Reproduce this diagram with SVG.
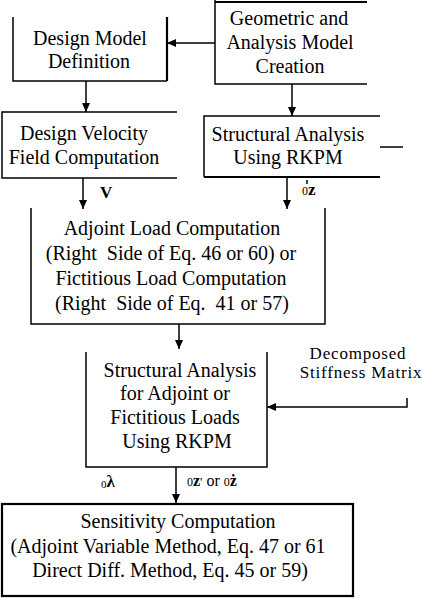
<svg xmlns="http://www.w3.org/2000/svg" width="422" height="598" viewBox="0 0 422 598">
<defs>
<style>
.box{fill:none;stroke:#000;stroke-width:1.5}
.thick{fill:none;stroke:#000;stroke-width:2.2}
.con{fill:none;stroke:#000;stroke-width:1.5}
text{font-family:"Liberation Serif","Times New Roman",serif;fill:#000}
.t{font-size:20px;text-anchor:middle}
.s{font-size:17px;text-anchor:middle;letter-spacing:0.8px}
.b{font-weight:bold}
</style>
<marker id="ah" markerWidth="9" markerHeight="8" refX="9" refY="4" orient="auto" markerUnits="userSpaceOnUse">
<path d="M0,0 L9,4 L0,8 Z" fill="#000"/>
</marker>
</defs>
<rect width="422" height="598" fill="#fff"/>

<g id="design-model">
<path class="box" d="M13,17 V81 H167"/>
<path class="thick" d="M167,17 V81"/>
<text class="t" x="90" y="45">Design Model</text>
<text class="t" x="89" y="68">Definition</text>
</g>

<g id="geometric-model">
<path class="box" d="M215,0 V84 H367"/>
<path class="thick" d="M215,2 H367"/>
<text class="t" x="289" y="25">Geometric and</text>
<text class="t" x="290" y="49">Analysis Model</text>
<text class="t" x="290" y="73">Creation</text>
</g>

<g id="design-velocity">
<path class="box" d="M177,112 H2 V178 H177"/>
<text class="t" x="84" y="140">Design Velocity</text>
<text class="t" x="84" y="164">Field Computation</text>
</g>

<g id="structural-analysis">
<path class="box" d="M380,116 H204 V177"/>
<path class="thick" d="M204,177 H380"/>
<path class="box" d="M380,147 H403"/>
<text class="t" x="288" y="141">Structural Analysis</text>
<text class="t" x="288" y="164">Using RKPM</text>
</g>

<g id="adjoint-load">
<path class="box" d="M31,208 V324 H325 V208"/>
<text class="t" x="172" y="235">Adjoint Load Computation</text>
<text class="t" x="171" y="260" xml:space="preserve">(Right  Side of Eq. 46 or 60) or</text>
<text class="t" x="171" y="285">Fictitious Load Computation</text>
<text class="t" x="172" y="310" xml:space="preserve">(Right  Side of Eq.  41 or 57)</text>
</g>

<g id="structural-adjoint">
<path class="box" d="M86,352 V467 H267 V352"/>
<text class="t" x="180" y="377">Structural Analysis</text>
<text class="t" x="175" y="400">for Adjoint or</text>
<text class="t" x="175" y="424">Fictitious Loads</text>
<text class="t" x="177" y="448">Using RKPM</text>
</g>

<g id="decomposed-stiffness">
<text class="s" x="358" y="359">Decomposed</text>
<text class="s" x="361" y="378">Stiffness Matrix</text>
</g>

<g id="sensitivity">
<rect class="thick" x="2" y="504" width="351" height="92"/>
<text class="t" x="178" y="528">Sensitivity Computation</text>
<text class="t" x="168" y="553">(Adjoint Variable Method, Eq. 47 or 61</text>
<text class="t" x="170" y="577">Direct Diff. Method, Eq. 45 or 59)</text>
</g>

<g id="connectors">
<path class="con" d="M215,43 H167" marker-end="url(#ah)"/>
<path class="con" d="M86,81 V112" marker-end="url(#ah)"/>
<path class="con" d="M292,84 V116" marker-end="url(#ah)"/>
<path class="con" d="M83,178 V209" marker-end="url(#ah)"/>
<path class="con" d="M287,177 V209" marker-end="url(#ah)"/>
<path class="con" d="M179,324 V349" marker-end="url(#ah)"/>
<path class="con" d="M407,398 V407 H267" marker-end="url(#ah)"/>
<path class="con" d="M176,467 V503" marker-end="url(#ah)"/>
<path class="con" d="M307,180 V184" stroke-width="1"/>
<text x="100" y="198" font-size="17" class="b">V</text>
<text x="302" y="195"><tspan font-size="12">0</tspan><tspan font-size="17" class="b">z</tspan></text>
<text x="101" y="488"><tspan font-size="11">0</tspan><tspan font-size="17" class="b" dy="-1">λ</tspan></text>
<text x="187" y="486" font-size="16"><tspan font-size="12">0</tspan><tspan class="b">z</tspan><tspan font-size="13">'</tspan> or <tspan font-size="12">0</tspan><tspan class="b">ż</tspan></text>
</g>
</svg>
